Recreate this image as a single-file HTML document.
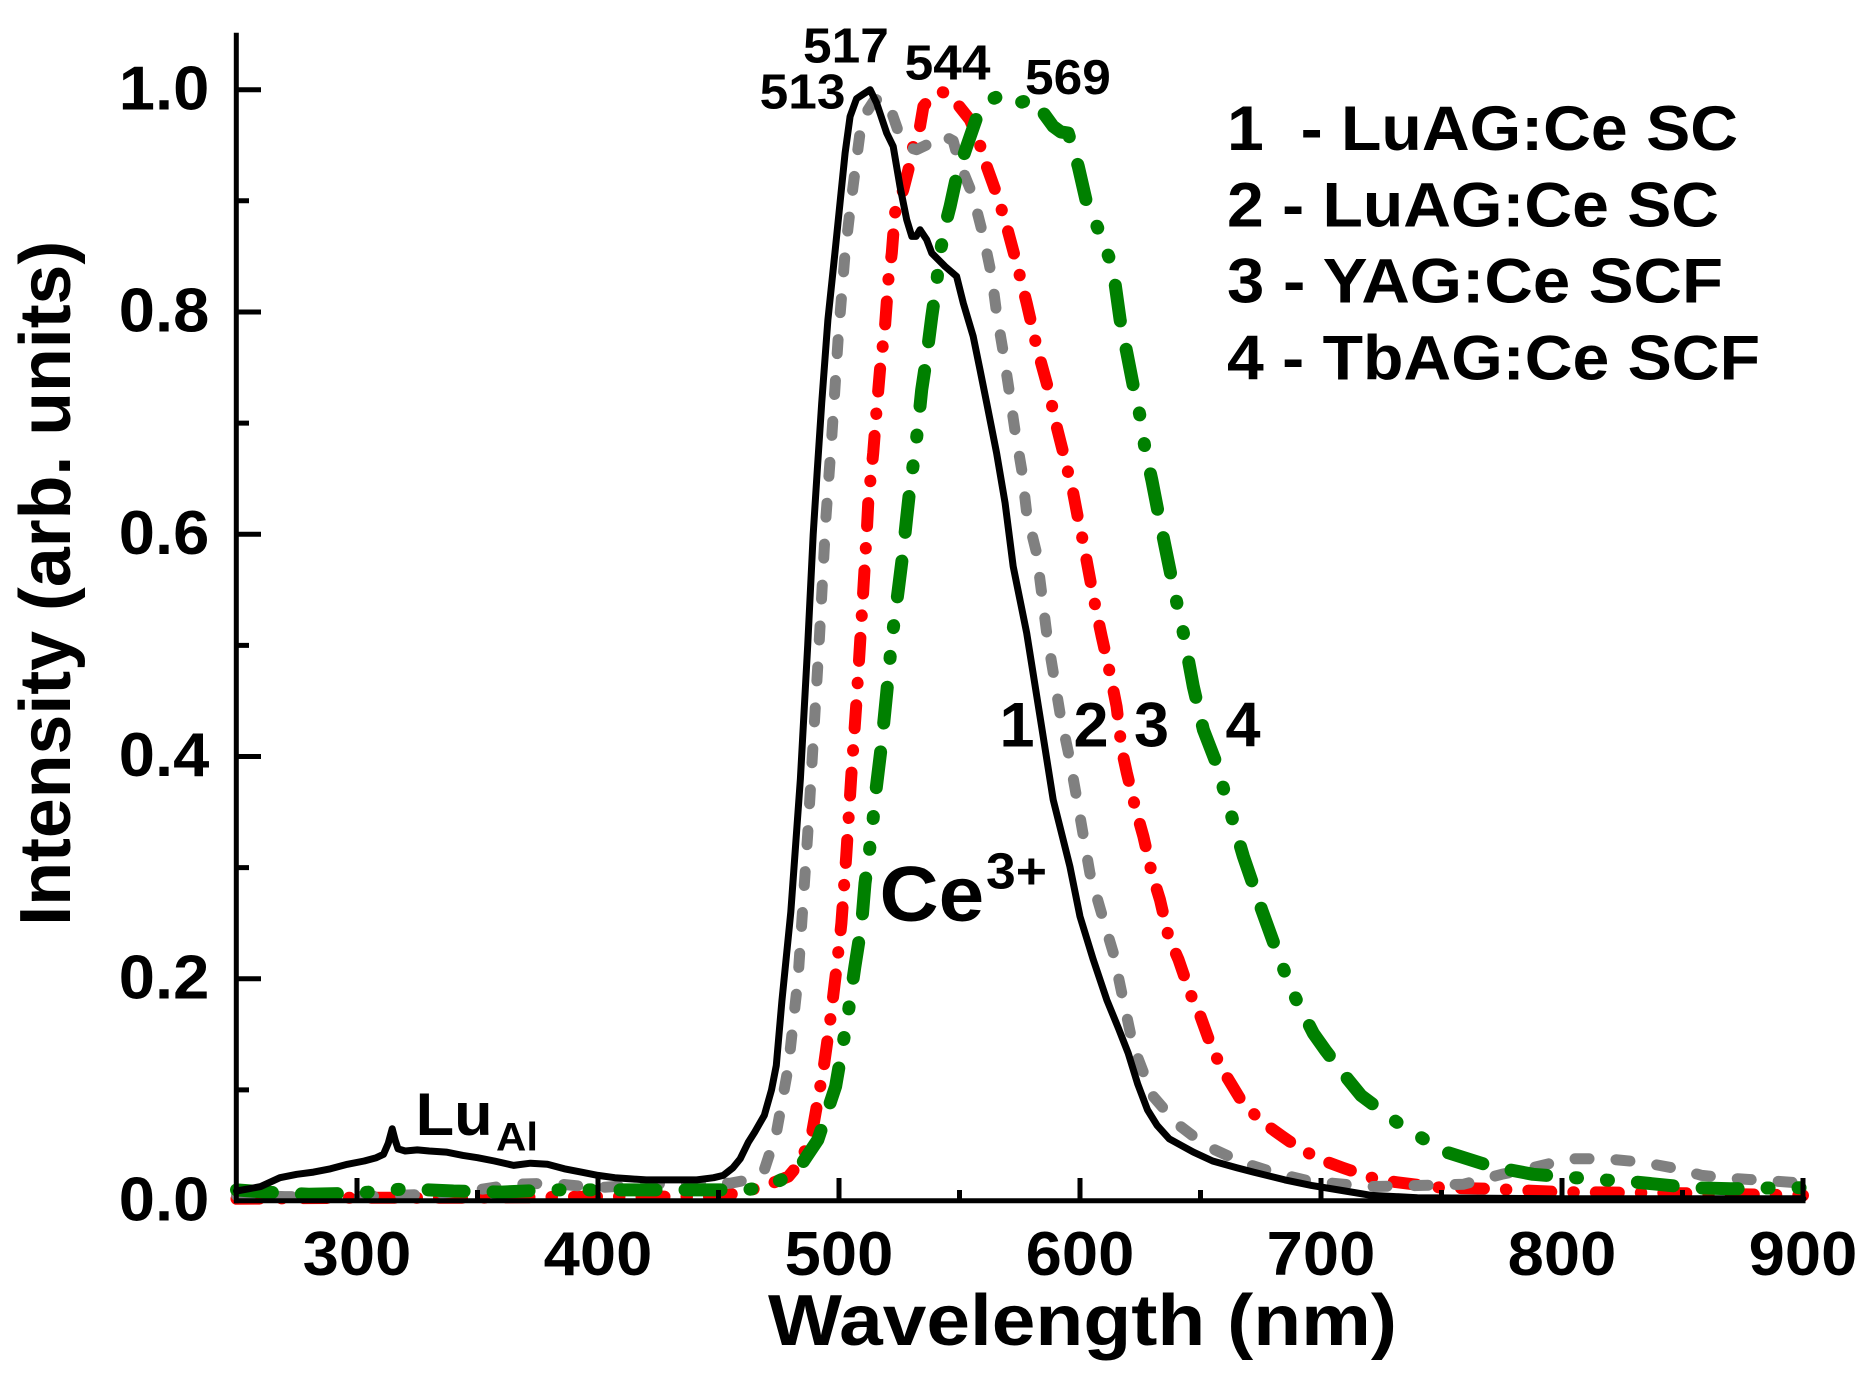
<!DOCTYPE html>
<html>
<head>
<meta charset="utf-8">
<style>
html,body{margin:0;padding:0;background:#fff;}
svg{display:block;}
text{font-family:"Liberation Sans",Arial,sans-serif;font-weight:bold;fill:#000;}
</style>
</head>
<body>
<svg width="1872" height="1377" viewBox="0 0 1872 1377" xmlns="http://www.w3.org/2000/svg">
<rect x="0" y="0" width="1872" height="1377" fill="#fff"/>

<!-- Curve 3 red dash-dot -->
<polyline fill="none" stroke="#ff0000" stroke-width="12" stroke-linecap="round" stroke-linejoin="round" stroke-dasharray="23 22 0.5 22"
points="236.5,1198.8 357,1197.7 477.5,1197.7 598,1196.6 718.5,1196.6 742.6,1192.1 766.7,1185.4 788.4,1176.6 800.4,1162.1 812,1133.2 823.8,1066.5 830.6,1017.6 836.6,967.6 841.4,923.2 846.2,856.5 851.1,778.7 856.6,699.8 861.7,616.5 866.7,533.1 868.4,499.8 873.2,453.1 876.6,409.8 880,369.7 885,326.4 888.4,279.7 891.8,253.1 894.9,213.1 903.3,189.7 908.4,169.7 913.2,146.4 920,126.4 923.4,106.4 930.6,97.5 941.7,91.9 948.7,94.1 956.6,103 969.9,119.7 978.3,139.7 986.7,166.4 998.3,198.6 1006.7,226.4 1018.3,269.7 1026.7,303.1 1036.6,346.4 1048.2,388.6 1056.6,426.4 1065,459.8 1073.2,493.1 1078.3,519.8 1083.4,543.1 1093.3,596.5 1101.7,636.5 1109.9,673.1 1116.6,706.5 1121.8,749.8 1126.9,773.2 1135,806.5 1143.4,836.5 1151.8,873.2 1160,899.8 1168.5,936.5 1178.6,959.8 1190.1,993.2 1200.5,1016.5 1212.6,1049.9 1224.6,1073.2 1241.5,1101 1260.8,1121 1282.5,1136.5 1296.9,1146.5 1318.6,1158.8 1342.7,1167.7 1371.6,1177.7 1395.7,1182.1 1441.5,1187.7 1489.7,1188.8 1562,1192.1 1682.5,1193.2 1803,1195.4"/>

<!-- Curve 2 gray dashed -->
<polyline fill="none" stroke="#808080" stroke-width="11" stroke-linecap="round" stroke-linejoin="round" stroke-dasharray="14 27"
points="236.5,1195.4 284.7,1196.6 357,1196.6 429.3,1194.3 477.5,1189.9 513.6,1184.3 549.8,1183.2 598,1187.7 646.2,1184.3 694.4,1183.2 730.6,1183.2 747.4,1179.9 764.3,1169.9 776.3,1133.2 788.4,1066.5 798,978.7 807.7,834.3 819,645.4 826,516.4 831.8,436.4 838.3,336.4 845.1,253.1 850.1,209.7 855.2,169.7 860,133.1 866.7,111.9 874,100.8 881.7,97.5 889.6,106.4 900,136.4 908.9,147.5 916.6,149.7 925.8,145.3 935.4,136.4 945,136.4 953.2,140.8 958.3,159.7 973.2,196.4 983.4,236.4 991.8,276.4 996.6,313.1 1003.4,353.1 1008.5,386.4 1014.9,429.8 1021.7,469.8 1026.7,513.1 1036.6,553.1 1046.7,633.1 1060,713.1 1069.9,759.8 1080,816.5 1089.9,873.2 1103.4,919.8 1113.4,953.2 1121.8,993.2 1133,1045.4 1152.3,1095.4 1176.4,1123.2 1205.3,1145.4 1241.5,1162.1 1272.8,1172.1 1309,1181 1369.2,1186.6 1422.2,1185.4 1463.2,1184.3 1501.8,1174.3 1528.3,1168.8 1569.2,1158.8 1605.4,1158.8 1641.5,1162.1 1677.7,1168.8 1701.8,1175.4 1737.9,1178.8 1788.5,1182.1 1803,1183.2"/>

<!-- Curve 4 green dash-dot -->
<polyline fill="none" stroke="#008000" stroke-width="13" stroke-linecap="round" stroke-linejoin="round" stroke-dasharray="36 29 36 29 2 29 2 29"
points="236.5,1189.9 265.4,1192.1 308.8,1194.3 357,1193.2 405.2,1188.8 453.4,1191 501.6,1192.1 549.8,1189.9 598,1189.9 646.2,1189.9 694.4,1189.9 746,1189.9 766.7,1186.6 787.9,1176.6 802.9,1162.1 817.8,1139.9 835.6,1086.5 847.7,1016.5 854.9,966.5 861.7,923.2 865,883.2 871.8,833.2 875.2,796.5 881.7,743.1 886.7,693.1 891.8,639.8 898.3,589.8 903.3,549.8 906.7,517.6 910.1,486.4 914.9,453.1 918.3,423.1 921.7,389.8 926.7,356.4 931.8,316.4 936.6,283.1 940,253.1 946.7,219.7 950.1,206.4 956.6,176.4 966.7,146.4 978.3,113 988.4,100.8 998.1,96.4 1005.3,100.8 1013,105.3 1022.2,101.9 1033.3,98.6 1043.4,113 1053.2,126.4 1060.7,131.9 1068.2,133.1 1078.3,166.4 1086.7,203.1 1100,233.1 1109.9,259.8 1115,283.1 1120.1,319.7 1126.9,353.1 1133.4,386.4 1140.1,416.4 1145.2,449.8 1151.8,479.8 1158.3,513.1 1165.1,546.4 1173.3,586.5 1183.4,633.1 1193.3,686.5 1203.4,729.8 1215,759.8 1226.8,799.8 1243.4,856.5 1261.7,909.8 1275,946.5 1290.2,986.5 1296.9,1001 1313.3,1033.2 1325.1,1049.9 1342.9,1073.2 1361,1095.4 1396.7,1122.1 1442.7,1151 1492.1,1166.6 1533.1,1174.3 1562,1176.6 1588.5,1178.8 1635.7,1182.1 1692.1,1187.7 1730.7,1188.8 1781.3,1187.7 1803,1187.7"/>

<!-- Curve 1 black solid -->
<polyline fill="none" stroke="#000" stroke-width="7" stroke-linecap="round" stroke-linejoin="round"
points="236.5,1191 248.6,1188.8 260.6,1186.6 279.9,1177.7 296.8,1174.3 313.6,1172.1 330.5,1168.8 347.4,1164.3 364.2,1161 376.3,1157.7 383.5,1154.3 388.3,1143.2 392.2,1128.8 395.1,1140 398,1148.8 405.2,1151 417.3,1149.9 429.3,1151 446.2,1152.1 463,1155.4 477.5,1157.7 494.4,1161 513.6,1165.4 530.5,1163.2 547.4,1164.3 564.3,1168.8 581.1,1172.1 598,1175.4 614.9,1177.7 629.3,1178.8 646.2,1179.9 670.3,1179.9 696.8,1179.9 713.7,1177.7 723.3,1175.4 733,1167.7 740.2,1158.8 748.4,1142.1 754.7,1132.1 764.3,1115.4 771.5,1089.9 776.3,1065.4 781.9,1001 790.8,912.1 800.4,778.7 807.7,645.4 813.2,534.2 817.3,469.8 821.7,403.1 827.9,319.7 834.9,253.1 840,203.1 845.1,153 850.1,116.4 856.6,98.6 861.7,95.2 870.1,89.7 876.6,103 886.7,133.1 893.2,146.4 900,186.4 906.7,219.7 911.8,236.4 916.1,236.4 920,229.7 926.7,239.7 931.8,253.1 945,266.4 956.6,276.4 963.3,303.1 973.2,336.4 980,369.7 986.7,403.1 996.6,453.1 1005.1,503.1 1013.2,566.5 1026.7,633.1 1040,716.5 1053.2,799.8 1069.9,866.5 1080,916.5 1093.3,959.8 1106.8,999.9 1118.6,1028.7 1128.2,1053.2 1137.8,1084.3 1147.5,1109.9 1157.1,1125.4 1169.2,1138.8 1193.3,1152.1 1212.6,1161 1236.7,1167.7 1253.5,1172.1 1284.9,1179.9 1311.4,1185.4 1345.1,1191 1371.6,1195.4 1417.4,1197.7 1562,1198.8 1803,1198.8"/>

<!-- Axes -->
<line x1="236.3" y1="32.7" x2="236.3" y2="1203.3" stroke="#000" stroke-width="5"/>
<line x1="234" y1="1200.8" x2="1805.5" y2="1200.8" stroke="#000" stroke-width="5"/>
<path fill="none" stroke="#000" stroke-width="5" d="M236 89.7H261 M236 312H261 M236 534.2H261 M236 756.5H261 M236 978.7H261
M236 200.8H249 M236 423.1H249 M236 645.4H249 M236 867.6H249 M236 1089.9H249
M357 1201V1178 M598 1201V1178 M839 1201V1178 M1080 1201V1178 M1321 1201V1178 M1562 1201V1178 M1803 1201V1178
M477.5 1201V1190 M718.5 1201V1190 M959.5 1201V1190 M1200.5 1201V1190 M1441.5 1201V1190 M1682.5 1201V1190"/>

<!-- Y tick labels -->
<g font-size="62">
<text x="118.8" y="109.3" textLength="90.5" lengthAdjust="spacingAndGlyphs">1.0</text>
<text x="118.8" y="331.6" textLength="90.5" lengthAdjust="spacingAndGlyphs">0.8</text>
<text x="118.8" y="553.8" textLength="90.5" lengthAdjust="spacingAndGlyphs">0.6</text>
<text x="118.8" y="776.1" textLength="90.5" lengthAdjust="spacingAndGlyphs">0.4</text>
<text x="118.8" y="998.3" textLength="90.5" lengthAdjust="spacingAndGlyphs">0.2</text>
<text x="118.8" y="1220.6" textLength="90.5" lengthAdjust="spacingAndGlyphs">0.0</text>
</g>
<!-- X tick labels -->
<g font-size="62">
<text x="302.7" y="1275" textLength="108.6" lengthAdjust="spacingAndGlyphs">300</text>
<text x="543.7" y="1275" textLength="108.6" lengthAdjust="spacingAndGlyphs">400</text>
<text x="784.7" y="1275" textLength="108.6" lengthAdjust="spacingAndGlyphs">500</text>
<text x="1025.7" y="1275" textLength="108.6" lengthAdjust="spacingAndGlyphs">600</text>
<text x="1266.7" y="1275" textLength="108.6" lengthAdjust="spacingAndGlyphs">700</text>
<text x="1507.7" y="1275" textLength="108.6" lengthAdjust="spacingAndGlyphs">800</text>
<text x="1748.7" y="1275" textLength="108.6" lengthAdjust="spacingAndGlyphs">900</text>
</g>

<!-- Axis titles -->
<text x="768" y="1345" font-size="72" textLength="629" lengthAdjust="spacingAndGlyphs">Wavelength (nm)</text>
<text transform="translate(70,925.7) rotate(-90)" x="0" y="0" font-size="72" textLength="685" lengthAdjust="spacingAndGlyphs">Intensity (arb. units)</text>

<!-- Legend -->
<g font-size="63">
<text x="1227" y="150" textLength="511" lengthAdjust="spacingAndGlyphs">1 &#160;- LuAG:Ce SC</text>
<text x="1227" y="226.7" textLength="492" lengthAdjust="spacingAndGlyphs">2 - LuAG:Ce SC</text>
<text x="1227" y="302.7" textLength="496" lengthAdjust="spacingAndGlyphs">3 - YAG:Ce SCF</text>
<text x="1227" y="379.3" textLength="533" lengthAdjust="spacingAndGlyphs">4 - TbAG:Ce SCF</text>
</g>

<!-- Peak labels -->
<g font-size="49">
<text x="803" y="62.7" textLength="85.8" lengthAdjust="spacingAndGlyphs">517</text>
<text x="759.7" y="108.3" textLength="85.8" lengthAdjust="spacingAndGlyphs">513</text>
<text x="904.7" y="79.3" textLength="85.8" lengthAdjust="spacingAndGlyphs">544</text>
<text x="1025" y="94" textLength="85.8" lengthAdjust="spacingAndGlyphs">569</text>
</g>

<!-- Curve number labels -->
<g font-size="63" text-anchor="middle">
<text x="1017" y="746.7">1</text>
<text x="1091" y="746.7">2</text>
<text x="1151.5" y="746.7">3</text>
<text x="1243" y="746.7">4</text>
</g>

<!-- Ce3+ -->
<text x="879.5" y="920.7" font-size="78" textLength="104.7" lengthAdjust="spacingAndGlyphs">Ce</text>
<text x="986" y="888.3" font-size="51" textLength="61" lengthAdjust="spacingAndGlyphs">3+</text>

<!-- LuAl -->
<text x="415.6" y="1135" font-size="60" textLength="77" lengthAdjust="spacingAndGlyphs">Lu</text>
<text x="496" y="1150.7" font-size="40" textLength="42" lengthAdjust="spacingAndGlyphs">Al</text>
</svg>
</body>
</html>
